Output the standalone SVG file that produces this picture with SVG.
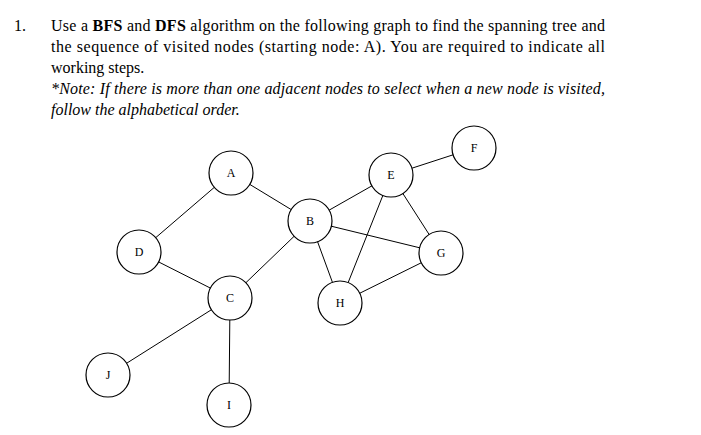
<svg xmlns="http://www.w3.org/2000/svg" width="701" height="435" viewBox="0 0 701 435">
<style>
text{font-family:"Liberation Serif",serif;fill:#000}
.t{font-size:16px}
.n circle{fill:#fff;stroke:#000;stroke-width:1.2}
.n text{font-size:12px;text-anchor:middle}
#edges line{stroke:#000;stroke-width:1}
</style>
<rect width="701" height="435" fill="#fff"/>
<g class="t">
<text x="14" y="31">1.</text>
<text x="51" y="31" textLength="554" lengthAdjust="spacing">Use a <tspan font-weight="bold">BFS</tspan> and <tspan font-weight="bold">DFS</tspan> algorithm on the following graph to find the spanning tree and</text>
<text x="51" y="52" textLength="554" lengthAdjust="spacing">the sequence of visited nodes (starting node: A). You are required to indicate all</text>
<text x="51" y="73">working steps.</text>
<text x="51" y="94" font-style="italic" textLength="554" lengthAdjust="spacing">*Note: If there is more than one adjacent nodes to select when a new node is visited,</text>
<text x="51" y="115" font-style="italic">follow the alphabetical order.</text>
</g>
<g id="edges">
<line x1="231" y1="173" x2="139" y2="252"/>
<line x1="231" y1="173" x2="310" y2="221"/>
<line x1="139" y1="252" x2="230" y2="298"/>
<line x1="230" y1="298" x2="310" y2="221"/>
<line x1="230" y1="298" x2="108" y2="375"/>
<line x1="230" y1="298" x2="229" y2="405"/>
<line x1="310" y1="221" x2="391" y2="175"/>
<line x1="310" y1="221" x2="441" y2="253"/>
<line x1="310" y1="221" x2="340" y2="303"/>
<line x1="391" y1="175" x2="474" y2="148"/>
<line x1="391" y1="175" x2="340" y2="303"/>
<line x1="391" y1="175" x2="441" y2="253"/>
<line x1="340" y1="303" x2="441" y2="253"/>
</g>
<g id="A" class="n"><circle cx="231" cy="173" r="22"/><text x="231" y="177">A</text></g>
<g id="E" class="n"><circle cx="391" cy="175" r="22"/><text x="391" y="179">E</text></g>
<g id="F" class="n"><circle cx="474" cy="148" r="22"/><text x="474" y="152">F</text></g>
<g id="B" class="n"><circle cx="310" cy="221" r="22"/><text x="310" y="225">B</text></g>
<g id="D" class="n"><circle cx="139" cy="252" r="22"/><text x="139" y="256">D</text></g>
<g id="G" class="n"><circle cx="441" cy="253" r="22"/><text x="441" y="257">G</text></g>
<g id="C" class="n"><circle cx="230" cy="298" r="22"/><text x="230" y="302">C</text></g>
<g id="H" class="n"><circle cx="340" cy="303" r="22"/><text x="340" y="307">H</text></g>
<g id="J" class="n"><circle cx="108" cy="375" r="22"/><text x="108" y="379">J</text></g>
<g id="I" class="n"><circle cx="229" cy="405" r="22"/><text x="229" y="409">I</text></g>
</svg>
